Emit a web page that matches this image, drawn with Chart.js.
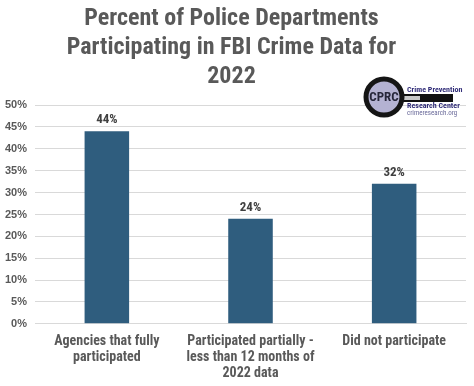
<!DOCTYPE html>
<html>
<head>
<meta charset="utf-8">
<script src="https://cdn.jsdelivr.net/npm/chart.js@4.4.1/dist/chart.umd.min.js"></script>
<style>
  html, body { margin: 0; padding: 0; background: #fff; }
  #wrap { width: 474px; height: 386px; position: relative; }
</style>
</head>
<body>
<div id="wrap"><canvas id="chart"></canvas></div>
<script>
// data
const categories = [
  ['Agencies that fully', 'participated'],
  ['Participated partially -', 'less than 12 months of', '2022 data'],
  ['Did not participate']
];
const percentValues = [44, 24, 32];
const yTicks = [0, 5, 10, 15, 20, 25, 30, 35, 40, 45, 50];
const titleLines = ['Percent of Police Departments', 'Participating in FBI Crime Data for', '2022'];

const narrowFont = "'Liberation Sans Narrow', 'Roboto Condensed', 'Roboto', sans-serif";
const barColor = '#2f5d7e';
const textGrey = '#595959';

// simple CPRC logo drawn on top-right
const logoPlugin = {
  id: 'cprcLogo',
  afterDraw(chart) {
    const ctx = chart.ctx;
    const cx = 384, cy = 97, r = 18;
    ctx.save();
    // handle bar
    ctx.fillStyle = '#111';
    ctx.fillRect(cx + 12, cy - 3, 57, 8);
    ctx.fillStyle = '#c8c8c8';
    ctx.fillRect(cx + 20, cy - 1, 16, 4);
    // lens
    ctx.beginPath();
    ctx.arc(cx, cy, r, 0, Math.PI * 2);
    ctx.fillStyle = '#b4b2d2';
    ctx.fill();
    ctx.lineWidth = 5;
    ctx.strokeStyle = '#151515';
    ctx.stroke();
    ctx.fillStyle = '#26263a';
    ctx.font = "bold 13px " + narrowFont;
    ctx.textAlign = 'center';
    ctx.textBaseline = 'middle';
    ctx.fillText('CPRC', cx, cy + 1);
    ctx.textAlign = 'left';
    ctx.fillStyle = '#34307a';
    ctx.font = "bold 8px " + narrowFont;
    ctx.fillText('Crime Prevention', cx + 23, cy - 7);
    ctx.fillText('Research Center', cx + 23, cy + 9);
    ctx.font = "7px " + narrowFont;
    ctx.fillStyle = '#6a6a9a';
    ctx.fillText('crimeresearch.org', cx + 23, cy + 16);
    ctx.restore();
  }
};

// value labels above bars
const valueLabelPlugin = {
  id: 'valueLabels',
  afterDatasetsDraw(chart) {
    const ctx = chart.ctx;
    const meta = chart.getDatasetMeta(0);
    ctx.save();
    ctx.font = "bold 13px " + narrowFont;
    ctx.fillStyle = '#404040';
    ctx.textAlign = 'center';
    ctx.textBaseline = 'bottom';
    meta.data.forEach((bar, i) => {
      ctx.fillText(percentValues[i] + '%', bar.x, bar.y - 5);
    });
    ctx.restore();
  }
};

new Chart(document.getElementById('chart'), {
  type: 'bar',
  data: {
    labels: categories,
    datasets: [{
      data: percentValues,
      backgroundColor: barColor,
      categoryPercentage: 1,
      barPercentage: 0.31
    }]
  },
  options: {
    responsive: true,
    maintainAspectRatio: false,
    animation: false,
    layout: { padding: { left: -3, right: 8, top: 0, bottom: -5 } },
    plugins: {
      legend: { display: false },
      tooltip: { enabled: false },
      title: {
        display: true,
        text: titleLines,
        color: textGrey,
        font: { family: narrowFont, size: 24, weight: 'bold', lineHeight: 1.21 },
        padding: { top: 4, bottom: 14 }
      }
    },
    scales: {
      x: {
        grid: { display: false, drawTicks: false },
        border: { color: '#d9d9d9' },
        ticks: {
          color: textGrey,
          font: { family: narrowFont, size: 14, weight: 'bold', lineHeight: 1.17 },
          maxRotation: 0,
          autoSkip: false,
          padding: 9
        }
      },
      y: {
        min: 0,
        max: 50,
        afterBuildTicks: axis => { axis.ticks = yTicks.map(v => ({ value: v })); },
        grid: { color: '#d9d9d9', drawTicks: false },
        border: { display: false },
        ticks: {
          color: textGrey,
          font: { family: "'Liberation Sans', sans-serif", size: 11, weight: 'bold' },
          padding: 8,
          callback: v => v + '%'
        }
      }
    }
  },
  plugins: [valueLabelPlugin, logoPlugin]
});
</script>
</body>
</html>
